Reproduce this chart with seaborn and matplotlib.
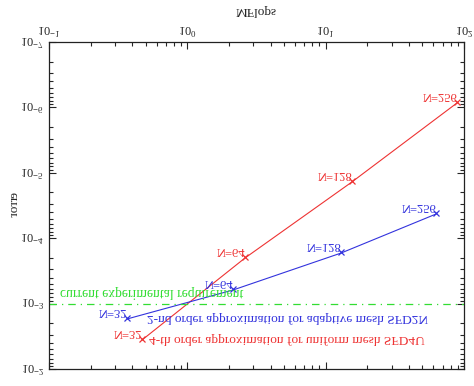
import numpy as np
import matplotlib
matplotlib.use("Agg")
import matplotlib.pyplot as plt
import seaborn as sns
import pandas as pd

n_labels = ["N=32", "N=64", "N=128", "N=256"]
mflops_4th = [0.471, 2.61, 15.5, 89.0]
error_4th = [3.47e-3, 1.94e-4, 1.33e-5, 8.26e-7]
mflops_2nd = [0.366, 2.14, 12.9, 62.8]
error_2nd = [1.66e-3, 5.98e-4, 1.63e-4, 4.12e-5]
requirement = 1e-3

red = "#ee3333"
blue = "#3333dd"
green = "#33dd33"

df_4th = pd.DataFrame({"mflops": mflops_4th, "error": error_4th, "N": n_labels})
df_2nd = pd.DataFrame({"mflops": mflops_2nd, "error": error_2nd, "N": n_labels})

sns.set_style("ticks")
plt.rcParams["font.family"] = ["Liberation Serif", "DejaVu Serif"]
plt.rcParams["mathtext.fontset"] = "stix"

fig = plt.figure(figsize=(4.74, 3.86), dpi=100)
ax = fig.add_axes([49 / 474, 43 / 386, 415 / 474, 327 / 386])

for d, c in [(df_4th, red), (df_2nd, blue)]:
    sns.lineplot(data=d, x="mflops", y="error", color=c, marker="x", markersize=5,
                 markeredgewidth=0.9, markeredgecolor=c, linewidth=0.8,
                 ax=ax, sort=False)
    for lab, x, y in zip(d["N"], d["mflops"], d["error"]):
        ax.text(x, y, lab, color=c, fontsize=9, ha="right", va="top")

ax.axhline(requirement, color=green, linestyle="-.", linewidth=0.9, dashes=(6, 4, 1, 4))

ax.set_xscale("log")
ax.set_yscale("log")
ax.set_xlim(0.1, 100)
ax.set_ylim(1e-7, 1e-2)

ax.text(0.53, error_4th[0], "4-th order approximation for uniform mesh SFD4U",
        color=red, fontsize=9.6, ha="left", va="center")
ax.text(0.51, error_2nd[0], "2-nd order approximation for adaptive mesh SFD2N",
        color=blue, fontsize=9.6, ha="left", va="center")
ax.text(0.12, 6.65e-4, "current experimental requirement",
        color=green, fontsize=9.8, ha="left", va="center")

ax.set_xlabel("MFlops", fontsize=9.5, labelpad=4)
ax.set_ylabel("error", fontsize=9.5, labelpad=0)
ax.tick_params(which="both", direction="in", top=True, right=True, labelsize=9, width=0.8)
ax.tick_params(which="major", length=5)
ax.tick_params(which="minor", length=3)
for s in ax.spines.values():
    s.set_linewidth(0.9)
    s.set_color("#222222")

# the reference picture is stored upside down, so flip the rendered raster
fig.canvas.draw()
img = np.asarray(fig.canvas.buffer_rgba())[::-1].copy()
plt.imsave("out.png", img)
